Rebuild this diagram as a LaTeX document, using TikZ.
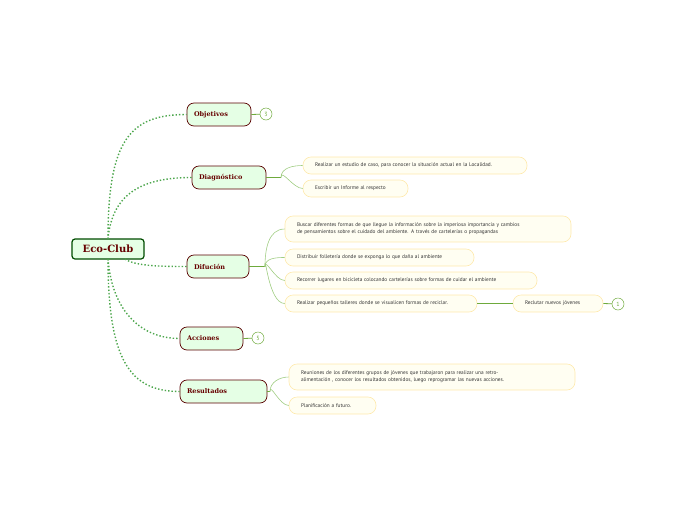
\documentclass[tikz,border=0pt]{standalone}
\usepackage{fontspec}
\setmainfont{PT Sans}
\newfontfamily\slab{DejaVu Serif}
\definecolor{cgreen}{RGB}{110,170,60}
\definecolor{lgreen}{RGB}{160,205,130}
\begin{document}
\begin{tikzpicture}[x=1pt,y=-1pt,
 main/.style={draw=green!30!black,line width=1.2pt,fill=green!10,rounded corners=3pt,minimum width=72pt,minimum height=20pt,font=\slab\bfseries\fontsize{10}{12}\selectfont,text=red!40!black},
 topic/.style={draw=red!35!black,line width=0.7pt,fill=green!10,rounded corners=7pt,minimum height=23pt,inner xsep=7pt,text width=#1,font=\slab\bfseries\fontsize{6.5}{8}\selectfont,text=red!40!black,align=left},
 sub/.style={draw=yellow!50!orange!30,line width=0.6pt,fill=yellow!5,rounded corners=8pt,minimum height=17pt,inner xsep=12pt,text width=#1,font=\fontsize{5.3}{7}\selectfont,text=black!80,align=left},
 cnt/.style={circle,draw=cgreen,line width=0.5pt,inner sep=0pt,minimum size=12pt,font=\fontsize{6}{6}\selectfont,text=cgreen},
 mcon/.style={green!50!black!70,line width=1.4pt,dotted},
 scon/.style={lgreen,line width=0.6pt},
 ccon/.style={cgreen,line width=0.8pt}]
\useasboundingbox (0,0) rectangle (697,520);
\node[main] (eco) at (108,249) {Eco-Club};
\node[topic=50pt] (obj) at (219,114.5) {Objetivos};
\node[topic=60pt] (dia) at (229,177.5) {Diagnóstico};
\node[topic=48pt] (dif) at (218,266.5) {Difución};
\node[topic=49pt] (acc) at (211.5,338.5) {Acciones};
\node[topic=73pt] (res) at (223.5,391.5) {Resultados};
\node[cnt] (c3) at (266,114) {3};
\node[cnt] (c5) at (258,338) {5};
\node[cnt] (c1) at (618,304) {1};
\node[sub=200pt] (d1) at (415,165.5) {Realizar un estudio de caso, para conocer la situación actual en la Localidad.};
\node[sub=81pt] (d2) at (355.5,188.5) {Escribir un Informe al respecto};
\node[sub=262pt,minimum height=26pt] (f1) at (428,229) {Buscar diferentes formas de que llegue la información sobre la imperiosa importancia y cambios\\de pensamientos sobre el cuidado del ambiente. A través de cartelerías o propagandas};
\node[sub=165pt] (f2) at (379.5,257.5) {Distribuir folletería donde se exponga lo que daña al ambiente};
\node[sub=228pt] (f3) at (411,280.5) {Recorrer lugares en bicicleta  colocando cartelerías sobre formas de cuidar el ambiente};
\node[sub=168pt] (f4) at (381,303.5) {Realizar pequeños talleres donde se visualicen formas de reciclar.};
\node[sub=66pt] (f4a) at (558,303.5) {Reclutar nuevos jóvenes};
\node[sub=262pt,minimum height=26pt] (r1) at (432,377) {Reuniones de los diferentes grupos  de jóvenes  que trabajaron para realizar una retro-\\alimentación , conocer los resultados obtenidos, luego reprogramar las nuevas acciones.};
\node[sub=63pt] (r2) at (332.5,405.5) {Planificación a   futuro.};
\coordinate (et) at (108,239);
\coordinate (eb) at (108,259);
\draw[mcon] (et) .. controls (108,140) and (130,114.5) .. (obj.west);
\draw[mcon] (et) .. controls (112,195) and (140,177.5) .. (dia.west);
\draw[mcon] (125,259) .. controls (135,266) and (160,266.5) .. (dif.west);
\draw[mcon] (eb) .. controls (112,310) and (140,338.5) .. (acc.west);
\draw[mcon] (eb) .. controls (108,360) and (130,391.5) .. (res.west);
\draw[ccon] (obj.east) -- (c3);
\draw[ccon] (acc.east) -- (c5);
\draw[ccon] (f4a.east) -- (c1);
\draw[ccon] (f4.east) -- (f4a.west);
\draw[ccon] (dia.east) -- (281,177.5);
\foreach \t in {d1,d2} \draw[scon] (281,177.5) to[out=90,in=180] (\t.west);
\draw[ccon] (dif.east) -- (265,266.5);
\foreach \t in {f1,f2,f3,f4} \draw[scon] (265,266.5) to[out=90,in=180] (\t.west);
\draw[ccon] (res.east) -- (270,391.5);
\foreach \t in {r1,r2} \draw[scon] (270,391.5) to[out=90,in=180] (\t.west);
\end{tikzpicture}
\end{document}
